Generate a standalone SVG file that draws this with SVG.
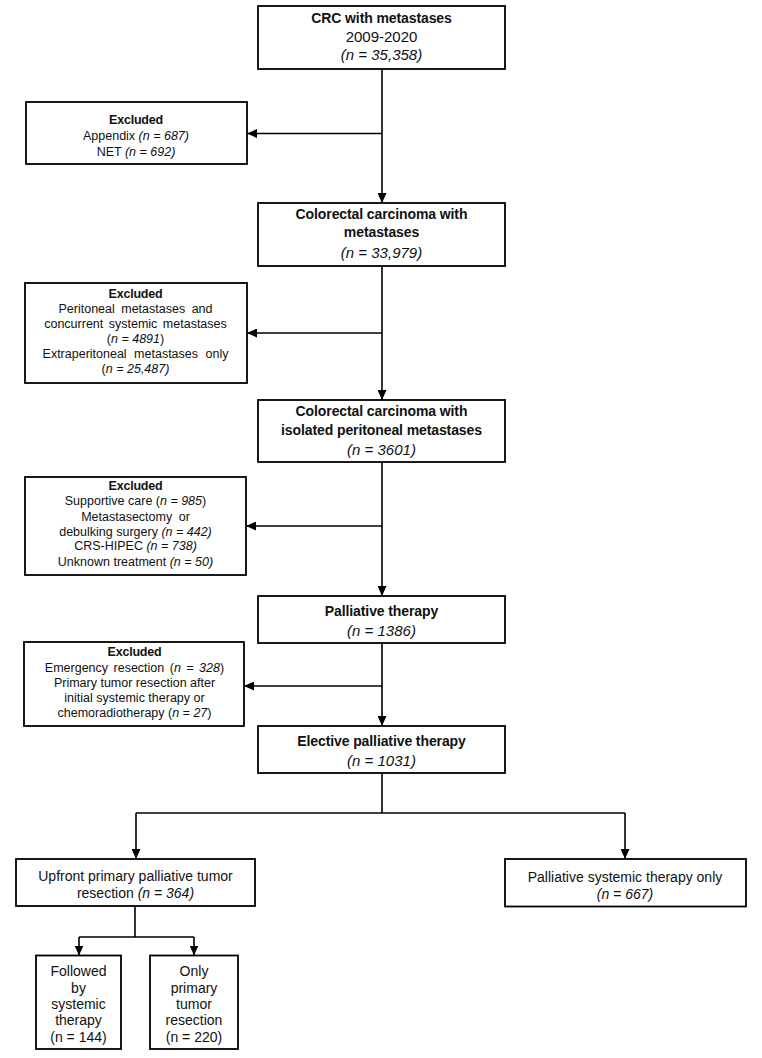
<svg xmlns="http://www.w3.org/2000/svg" width="762" height="1058" viewBox="0 0 762 1058">
<style>
  .box { fill: #ffffff; stroke: #000000; stroke-width: 1.8; }
  .ln { fill: none; stroke: #000000; stroke-width: 1.6; }
  text { font-family: "Liberation Sans", Arial, sans-serif; fill: #111111; text-anchor: middle; dominant-baseline: central; }
  .t { font-size: 14px; font-weight: bold; letter-spacing: -0.1px; }
  .m { font-size: 15px; }
  .xt { font-size: 12.5px; font-weight: bold; letter-spacing: -0.2px; }
  .x { font-size: 12.5px; }
  .b { font-size: 14px; }
  .i { font-style: italic; }
</style>
<defs>
  <marker id="arr" markerUnits="userSpaceOnUse" markerWidth="10" markerHeight="9" viewBox="0 0 10 9" refX="10" refY="4.5" orient="auto">
    <path d="M0,0 L10,4.5 L0,9 Z" fill="#000000"/>
  </marker>
</defs>
<rect width="762" height="1058" fill="#ffffff"/>

<g id="connectors">
  <line class="ln" x1="382" y1="69" x2="382" y2="203" marker-end="url(#arr)"/>
  <line class="ln" x1="382" y1="133.5" x2="247" y2="133.5" marker-end="url(#arr)"/>
  <line class="ln" x1="382" y1="266" x2="382" y2="400" marker-end="url(#arr)"/>
  <line class="ln" x1="382" y1="333" x2="247" y2="333" marker-end="url(#arr)"/>
  <line class="ln" x1="382" y1="462" x2="382" y2="596" marker-end="url(#arr)"/>
  <line class="ln" x1="382" y1="526" x2="246" y2="526" marker-end="url(#arr)"/>
  <line class="ln" x1="382" y1="643" x2="382" y2="726" marker-end="url(#arr)"/>
  <line class="ln" x1="382" y1="686" x2="244" y2="686" marker-end="url(#arr)"/>
  <line class="ln" x1="382" y1="773" x2="382" y2="813"/>
  <line class="ln" x1="136" y1="813" x2="625" y2="813"/>
  <line class="ln" x1="136" y1="813" x2="136" y2="859" marker-end="url(#arr)"/>
  <line class="ln" x1="625" y1="813" x2="625" y2="859" marker-end="url(#arr)"/>
  <line class="ln" x1="135" y1="906" x2="135" y2="937"/>
  <line class="ln" x1="79" y1="937" x2="194" y2="937"/>
  <line class="ln" x1="79" y1="937" x2="79" y2="955.5" marker-end="url(#arr)"/>
  <line class="ln" x1="194" y1="937" x2="194" y2="955.5" marker-end="url(#arr)"/>
</g>

<g id="n-crc">
  <rect class="box" x="258" y="6" width="247" height="63"/>
  <text class="t" x="381.5" y="18">CRC with metastases</text>
  <text class="m" x="381.5" y="36">2009-2020</text>
  <text class="m i" x="381.5" y="54">(n = 35,358)</text>
</g>

<g id="n-excl1">
  <rect class="box" x="26" y="102" width="221" height="62"/>
  <text class="xt" x="136" y="120">Excluded</text>
  <text class="x" x="136" y="136">Appendix <tspan class="i">(n = 687)</tspan></text>
  <text class="x" x="136" y="152">NET <tspan class="i">(n = 692)</tspan></text>
</g>

<g id="n-colorectal">
  <rect class="box" x="258" y="203" width="247" height="63"/>
  <text class="t" x="381.5" y="214">Colorectal carcinoma with</text>
  <text class="t" x="381.5" y="232">metastases</text>
  <text class="m i" x="381.5" y="252">(n = 33,979)</text>
</g>

<g id="n-excl2">
  <rect class="box" x="25" y="283" width="222" height="100"/>
  <text class="xt" x="135.5" y="294">Excluded</text>
  <text class="x" x="135.5" y="309" word-spacing="3">Peritoneal metastases and</text>
  <text class="x" x="135.5" y="324" word-spacing="2">concurrent systemic metastases</text>
  <text class="x" x="135.5" y="339">(<tspan class="i">n = 4891</tspan>)</text>
  <text class="x" x="135.5" y="354" word-spacing="4">Extraperitoneal metastases only</text>
  <text class="x" x="135.5" y="369">(<tspan class="i">n = 25,487)</tspan></text>
</g>

<g id="n-isolated">
  <rect class="box" x="258" y="400" width="247" height="62"/>
  <text class="t" x="381.5" y="411">Colorectal carcinoma with</text>
  <text class="t" x="381.5" y="430">isolated peritoneal metastases</text>
  <text class="m i" x="381.5" y="449">(n = 3601)</text>
</g>

<g id="n-excl3">
  <rect class="box" x="25" y="477" width="221" height="98"/>
  <text class="xt" x="135.5" y="486">Excluded</text>
  <text class="x" x="135.5" y="501">Supportive care (<tspan class="i">n = 985</tspan>)</text>
  <text class="x" x="135.5" y="517" word-spacing="3">Metastasectomy or</text>
  <text class="x" x="135.5" y="532">debulking surgery <tspan class="i">(n = 442)</tspan></text>
  <text class="x" x="135.5" y="546">CRS-HIPEC <tspan class="i">(n = 738)</tspan></text>
  <text class="x" x="135.5" y="562">Unknown treatment  <tspan class="i">(n = 50)</tspan></text>
</g>

<g id="n-palliative">
  <rect class="box" x="258" y="596" width="247" height="47"/>
  <text class="t" x="381.5" y="611">Palliative therapy</text>
  <text class="m i" x="381.5" y="630">(n = 1386)</text>
</g>

<g id="n-excl4">
  <rect class="box" x="24" y="642" width="220" height="84"/>
  <text class="xt" x="134.5" y="652">Excluded</text>
  <text class="x" x="134.5" y="668" word-spacing="2">Emergency resection (<tspan class="i">n = 328</tspan>)</text>
  <text class="x" x="134.5" y="683">Primary tumor resection after</text>
  <text class="x" x="134.5" y="698">initial systemic therapy or</text>
  <text class="x" x="134.5" y="713">chemoradiotherapy  (<tspan class="i">n = 27</tspan>)</text>
</g>

<g id="n-elective">
  <rect class="box" x="258" y="726" width="247" height="47"/>
  <text class="t" x="381.5" y="741">Elective palliative therapy</text>
  <text class="m i" x="381.5" y="760">(n = 1031)</text>
</g>

<g id="n-upfront">
  <rect class="box" x="16" y="859" width="239" height="47"/>
  <text class="b" x="135.5" y="876">Upfront primary palliative tumor</text>
  <text class="b" x="135.5" y="892.5">resection <tspan class="i">(n = 364)</tspan></text>
</g>

<g id="n-systemic-only">
  <rect class="box" x="505" y="859" width="241" height="47.5"/>
  <text class="b" x="625" y="877">Palliative systemic therapy only</text>
  <text class="b i" x="625" y="893.5">(n = 667)</text>
</g>

<g id="n-followed">
  <rect class="box" x="36" y="955.5" width="85" height="93.5"/>
  <text class="b" x="78.5" y="971">Followed</text>
  <text class="b" x="78.5" y="988">by</text>
  <text class="b" x="78.5" y="1004">systemic</text>
  <text class="b" x="78.5" y="1020">therapy</text>
  <text class="b" x="78.5" y="1036.5">(n = 144)</text>
</g>

<g id="n-only">
  <rect class="box" x="150" y="955.5" width="88" height="93.5"/>
  <text class="b" x="194" y="971">Only</text>
  <text class="b" x="194" y="988">primary</text>
  <text class="b" x="194" y="1004">tumor</text>
  <text class="b" x="194" y="1020">resection</text>
  <text class="b" x="194" y="1036.5">(n = 220)</text>
</g>
</svg>
